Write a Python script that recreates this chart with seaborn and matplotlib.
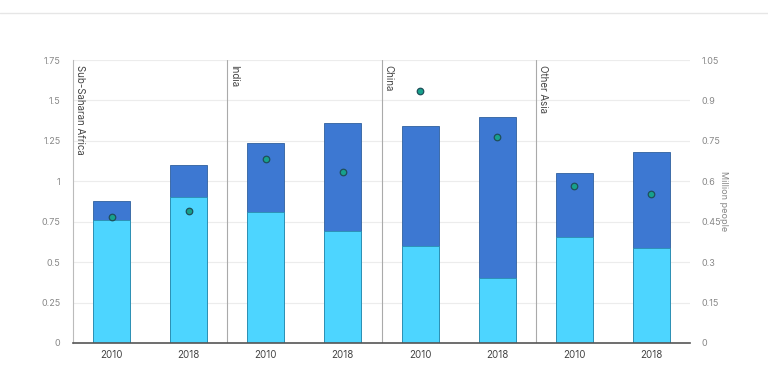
import matplotlib
matplotlib.use("Agg")
import matplotlib.pyplot as plt
import seaborn as sns
import pandas as pd
import numpy as np
from matplotlib.lines import Line2D

regions = ["Sub-Saharan Africa", "India", "China", "Other Asia"]
years = ["2010", "2018"]
total_values = [0.88, 1.10, 1.235, 1.36, 1.34, 1.40, 1.05, 1.18]
lower_values = [0.76, 0.905, 0.81, 0.69, 0.60, 0.40, 0.655, 0.59]
dot_values = [0.467, 0.49, 0.683, 0.634, 0.935, 0.764, 0.582, 0.553]

sns.set_theme(style="white")
plt.rcParams['font.family'] = ['Inter', 'DejaVu Sans']

labels = [f"{r} {y}" for r in regions for y in years]
df = pd.DataFrame({"bar": labels, "total": total_values, "lower": lower_values,
                   "dot": dot_values, "idx": np.arange(len(labels))})

fig = plt.figure(figsize=(7.68, 3.88), dpi=100)
ax = fig.add_axes([73/768, 1-343/388, (690-73)/768, (343-60)/388])

dark = "#3d78d2"
light = "#4dd5ff"
sns.barplot(data=df, x="bar", y="total", order=labels, color=dark, saturation=1,
            width=0.48, edgecolor="#2f5f9e", linewidth=0.6, ax=ax)
sns.barplot(data=df, x="bar", y="lower", order=labels, color=light, saturation=1,
            width=0.48, edgecolor="#2a8fb0", linewidth=0.6, ax=ax)

ax.set_xlim(-0.5, 7.5)
ax.set_ylim(0, 1.75)
ax.set_yticks([0, 0.25, 0.5, 0.75, 1, 1.25, 1.5, 1.75])
ax.set_yticklabels(["0", "0.25", "0.5", "0.75", "1", "1.25", "1.5", "1.75"])
ax.set_xticks(np.arange(8))
ax.set_xticklabels(years * 4)
ax.set_xticks(np.arange(-0.5, 8, 1), minor=True)
ax.tick_params(axis="x", which="major", length=0, labelsize=7, colors="#444444", pad=5)
ax.tick_params(axis="x", which="minor", length=5, width=1, color="#555555", direction="out")
ax.tick_params(axis="y", length=0, labelsize=6.5, colors="#888888", pad=9)
ax.set_xlabel("")
ax.set_ylabel("")
ax.grid(axis="y", color="#ececec", linewidth=0.8)
ax.set_axisbelow(True)
for s in ["top", "right"]:
    ax.spines[s].set_visible(False)
ax.spines["left"].set_color("#bbbbbb")
ax.spines["left"].set_linewidth(0.8)
ax.spines["bottom"].set_color("#555555")
ax.spines["bottom"].set_linewidth(1.2)

for b in [1.5, 3.5, 5.5]:
    ax.axvline(b, color="#aaaaaa", linewidth=0.8, zorder=1)
for i, r in enumerate(regions):
    ax.text(i*2 - 0.5 + 0.03, 1.72, r, rotation=270, va="top", ha="left",
            fontsize=7, color="#444444")

ax2 = ax.twinx()
sns.scatterplot(data=df, x="idx", y="dot", color="#17a18c", edgecolor="#1f4f5a",
                linewidth=0.9, s=22, ax=ax2, zorder=5)
ax2.set_ylim(0, 1.05)
ax2.set_xlim(-0.5, 7.5)
ax2.set_yticks([0, 0.15, 0.3, 0.45, 0.6, 0.75, 0.9, 1.05])
ax2.set_yticklabels(["0", "0.15", "0.3", "0.45", "0.6", "0.75", "0.9", "1.05"])
ax2.tick_params(axis="y", length=0, labelsize=6.5, colors="#888888", pad=8)
ax2.set_ylabel("Million people", rotation=270, fontsize=6.5, color="#888888",
               va="center", ha="center")
ax2.yaxis.set_label_coords(1.055, 0.5)
ax2.set_xlabel("")
for s in ax2.spines.values():
    s.set_visible(False)

fig.add_artist(Line2D([0, 1], [1-13/388, 1-13/388], transform=fig.transFigure,
                      color="#e6e6e6", linewidth=1))

fig.savefig("out.png", dpi=100)
